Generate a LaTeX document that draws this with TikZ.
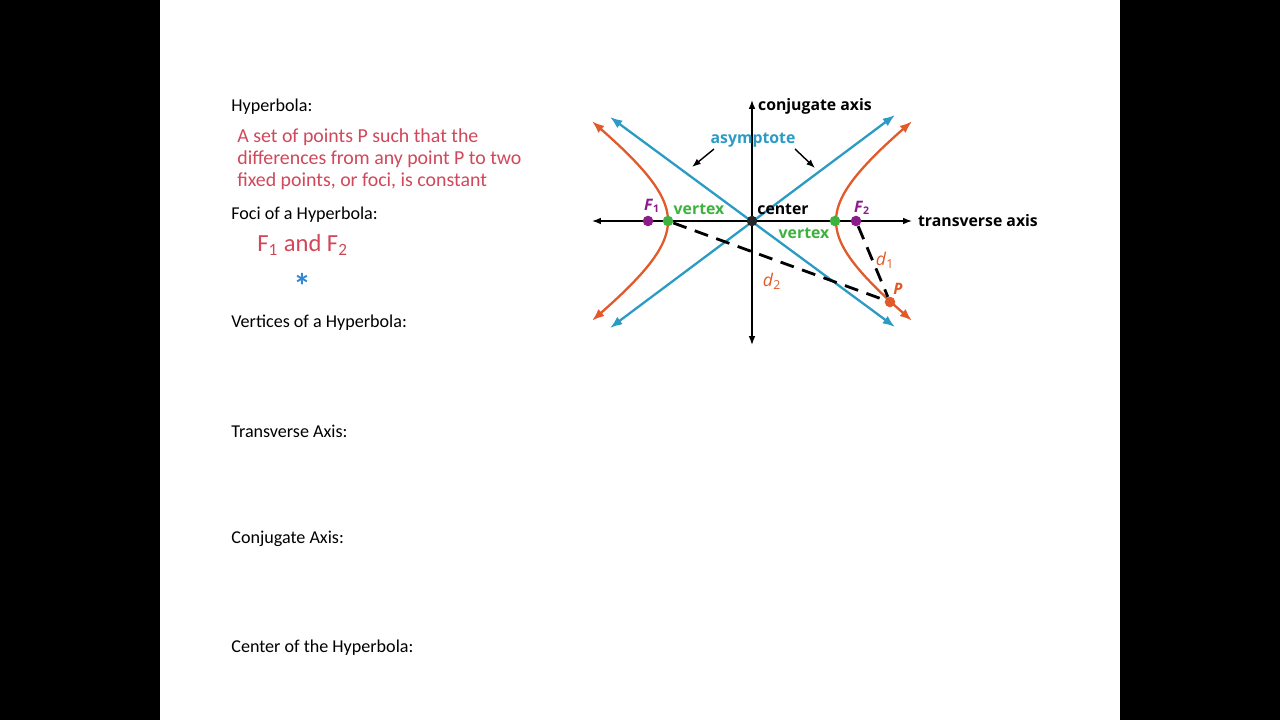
\documentclass[tikz,border=0pt]{standalone}
\usepackage{fontspec}
\setmainfont{Carlito}
\newfontfamily\diagfont{Open Sans}
\usepackage{tikz}
\usetikzlibrary{arrows.meta,positioning}
\definecolor{defred}{HTML}{D0485A}
\definecolor{hypred}{HTML}{E2592A}
\definecolor{asyblue}{HTML}{2A9BC4}
\definecolor{vgreen}{HTML}{3DB23F}
\definecolor{fpurple}{HTML}{8B1A8B}
\definecolor{starblue}{HTML}{2F86D6}
\tikzset{
 heading/.style={anchor=west,font=\fontsize{10.3pt}{12pt}\selectfont,inner sep=0pt},
 lbl/.style={font=\diagfont\fontsize{9pt}{10pt}\selectfont\bfseries,inner sep=1pt},
 dot/.style={circle,fill,inner sep=0pt,minimum size=6pt},
}
\begin{document}
\begin{tikzpicture}[x=0.02cm,y=-0.02cm]
 \fill[black] (0,0) rectangle (1280,720);
 \fill[white] (160,0) rectangle (1120,720);
 % left side notes
 \node[heading] (hyp) at (231,107) {Hyperbola:};
 \node[anchor=north west,inner sep=0pt,text=defred,align=left,font=\fontsize{11.3pt}{12.5pt}\selectfont] (def) at (237,128)
 {A set of points P such that the\\differences from any point P to two\\fixed points, or foci, is constant};
 \node[heading] (foci) at (231,215) {Foci of a Hyperbola:};
 \node[anchor=west,text=defred,font=\fontsize{14pt}{15pt}\selectfont,inner sep=0pt] (fnote) at (257,245) {F\textsubscript{1} and F\textsubscript{2}};
 \node[text=starblue,font=\fontsize{20pt}{20pt}\selectfont\bfseries,inner sep=0pt] (star) at (302,286) {*};
 \node[heading] (vert) at (231,323) {Vertices of a Hyperbola:};
 \node[heading] (trans) at (231,431) {Transverse Axis:};
 \node[heading] (conj) at (231,539) {Conjugate Axis:};
 \node[heading] (cent) at (231,648) {Center of the Hyperbola:};
 % diagram
 \coordinate (O) at (752,221);
 \draw[{Latex[length=5pt]}-{Latex[length=5pt]},thick] (592,221) -- (912,221);
 \draw[{Latex[length=5pt]}-{Latex[length=5pt]},thick] (752,345) -- (752,100);
 \draw[asyblue,line width=1.3pt,{Latex[length=7pt]}-{Latex[length=7pt]}] (610,117) -- (895,327);
 \draw[asyblue,line width=1.3pt,{Latex[length=7pt]}-{Latex[length=7pt]}] (610,328) -- (895,115);
 \draw[hypred,line width=1.3pt,{Latex[length=7pt]}-{Latex[length=7pt]},domain=-1.26:1.26,samples=60,variable=\t]
  plot ({752+84*cosh(\t)},{221+61.5*sinh(\t)});
 \draw[hypred,line width=1.3pt,{Latex[length=7pt]}-{Latex[length=7pt]},domain=-1.26:1.26,samples=60,variable=\t]
  plot ({752-84*cosh(\t)},{221+61.5*sinh(\t)});
 \node[dot,fill=fpurple] (f1) at (648,221) {};
 \node[dot,fill=fpurple] (f2) at (856,221) {};
 \node[dot,fill=vgreen] (v1) at (668,221) {};
 \node[dot,fill=vgreen] (v2) at (835,221) {};
 \node[dot,fill=black!85] (c) at (O) {};
 \node[dot,fill=hypred] (p) at (890,302) {};
 \draw[dashed,line width=1.6pt,dash pattern=on 8pt off 5pt] (v1) -- (p);
 \draw[dashed,line width=1.6pt,dash pattern=on 8pt off 5pt] (f2) -- (p);
 % labels
 \node[lbl,anchor=west] (conjl) at (756,106) {conjugate axis};
 \node[lbl,anchor=west] (transl) at (916,221) {transverse axis};
 \node[lbl,text=asyblue] (asy) at (753,140) {asymptote};
 \draw[-{Latex[length=5pt]},thick] (714,149) -- (692,167);
 \draw[-{Latex[length=5pt]},thick] (795,149) -- (815,168);
 \node[lbl] (centl) at (783,209) {center};
 \node[lbl,text=vgreen] (vl1) at (699,209) {vertex};
 \node[lbl,text=vgreen] (vl2) at (804,233) {vertex};
 \node[lbl,text=fpurple] (f1l) at (652,206) {\textit{F}\textsubscript{1}};
 \node[lbl,text=fpurple] (f2l) at (862,208) {\textit{F}\textsubscript{2}};
 \node[lbl,text=hypred,font=\diagfont\fontsize{10pt}{11pt}\selectfont] (d1) at (885,260) {\textit{d}\textsubscript{1}};
 \node[lbl,text=hypred,font=\diagfont\fontsize{10pt}{11pt}\selectfont] (d2) at (772,281) {\textit{d}\textsubscript{2}};
 \node[lbl,text=hypred] (pl) at (898,289) {\textit{P}};
\end{tikzpicture}
\end{document}
